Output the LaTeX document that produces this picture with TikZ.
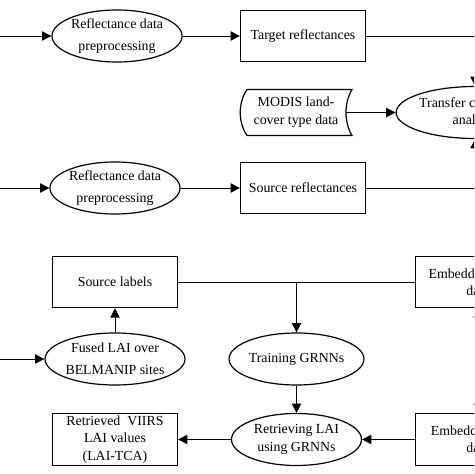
\documentclass[tikz,border=0pt]{standalone}
\usepackage{fontspec}
\setmainfont{Liberation Serif}
\usetikzlibrary{shapes.geometric, arrows.meta}
\tikzstyle{dataset} = [rectangle, draw, line width=0.9pt, minimum width=93.75pt, minimum height=38.5pt, inner sep=1pt, align=center, font=\fontsize{10.4}{13}\selectfont]
\tikzstyle{operation} = [ellipse, draw, line width=0.9pt, minimum width=97.5pt, minimum height=39pt, inner sep=0pt, align=center, font=\fontsize{10.4}{13}\selectfont]
\tikzstyle{widetext} = [font=\fontsize{10.4}{16.5}\selectfont]
\tikzstyle{stored} = [rectangle, minimum width=75pt, minimum height=34.5pt, inner sep=0pt, align=center, font=\fontsize{10.4}{13.5}\selectfont]
\tikzstyle{arrow} = [line width=0.7pt, ->, >={Triangle[length=7pt, width=7pt]}]
\tikzstyle{link} = [line width=0.7pt]

\begin{document}
\begin{tikzpicture}[x=0.75pt, y=-0.75pt]
    \useasboundingbox (0,0) rectangle (474,474);
    \clip (0,0) rectangle (474,474);

    \node [operation, widetext] at (117,36) (prep1) {Reflectance data\\preprocessing};
    \node [dataset] at (303,36) (target) {Target reflectances};
    \node [stored] at (296,112.5) (modis) {MODIS land-\\cover type data};
    \node [operation] at (475,112.5) (tca) {Transfer component\\analysis};
    \node [operation, widetext] at (115,188) (prep2) {Reflectance data\\preprocessing};
    \node [dataset] at (303,188) (source) {Source reflectances};
    \node [dataset] at (115,282) (srclab) {Source labels};
    \node [dataset] at (478,282) (embsrc) {Embedded source\\data};
    \node [operation] at (296.5,359) (train) {Training GRNNs};
    \node [operation, widetext] at (115,359) (fused) {Fused LAI over\\BELMANIP sites};
    \node [operation] at (296.5,439.5) (retr) {Retrieving LAI\\using GRNNs};
    \node [dataset] at (115,439.5) (viirs) {Retrieved\ \ VIIRS\\LAI values\\(LAI-TCA)};
    \node [dataset] at (478,439.5) (embtgt) {Embedded target\\data};

    % stored data outline
    \draw [line width=0.9pt, shift={(modis.center)}] (-49,-23) -- (56,-23) .. controls (48,-10) and (48,10) .. (56,23) -- (-49,23) .. controls (-58,10) and (-58,-10) .. (-49,-23) -- cycle;

    \coordinate (in1) at (-10,36);
    \coordinate (in2) at (-10,188);
    \coordinate (in3) at (-10,359);

    \draw [arrow] (in1) -- (prep1);
    \draw [arrow] (prep1) -- (target);
    \draw [arrow] (target) -| (tca);
    \draw [arrow] (modis) -- (tca);
    \draw [arrow] (in2) -- (prep2);
    \draw [arrow] (prep2) -- (source);
    \draw [arrow] (source) -| (tca);
    \draw [link] (srclab) -- (embsrc);
    \draw [arrow] (train |- srclab) -- (train);
    \draw [arrow] (in3) -- (fused);
    \draw [arrow] (fused) -- (srclab);
    \draw [arrow] (train) -- (retr);
    \draw [arrow] (embtgt) -- (retr);
    \draw [arrow] (retr) -- (viirs);
    \draw [arrow, <->] (embsrc) -- (embtgt);
\end{tikzpicture}
\end{document}
